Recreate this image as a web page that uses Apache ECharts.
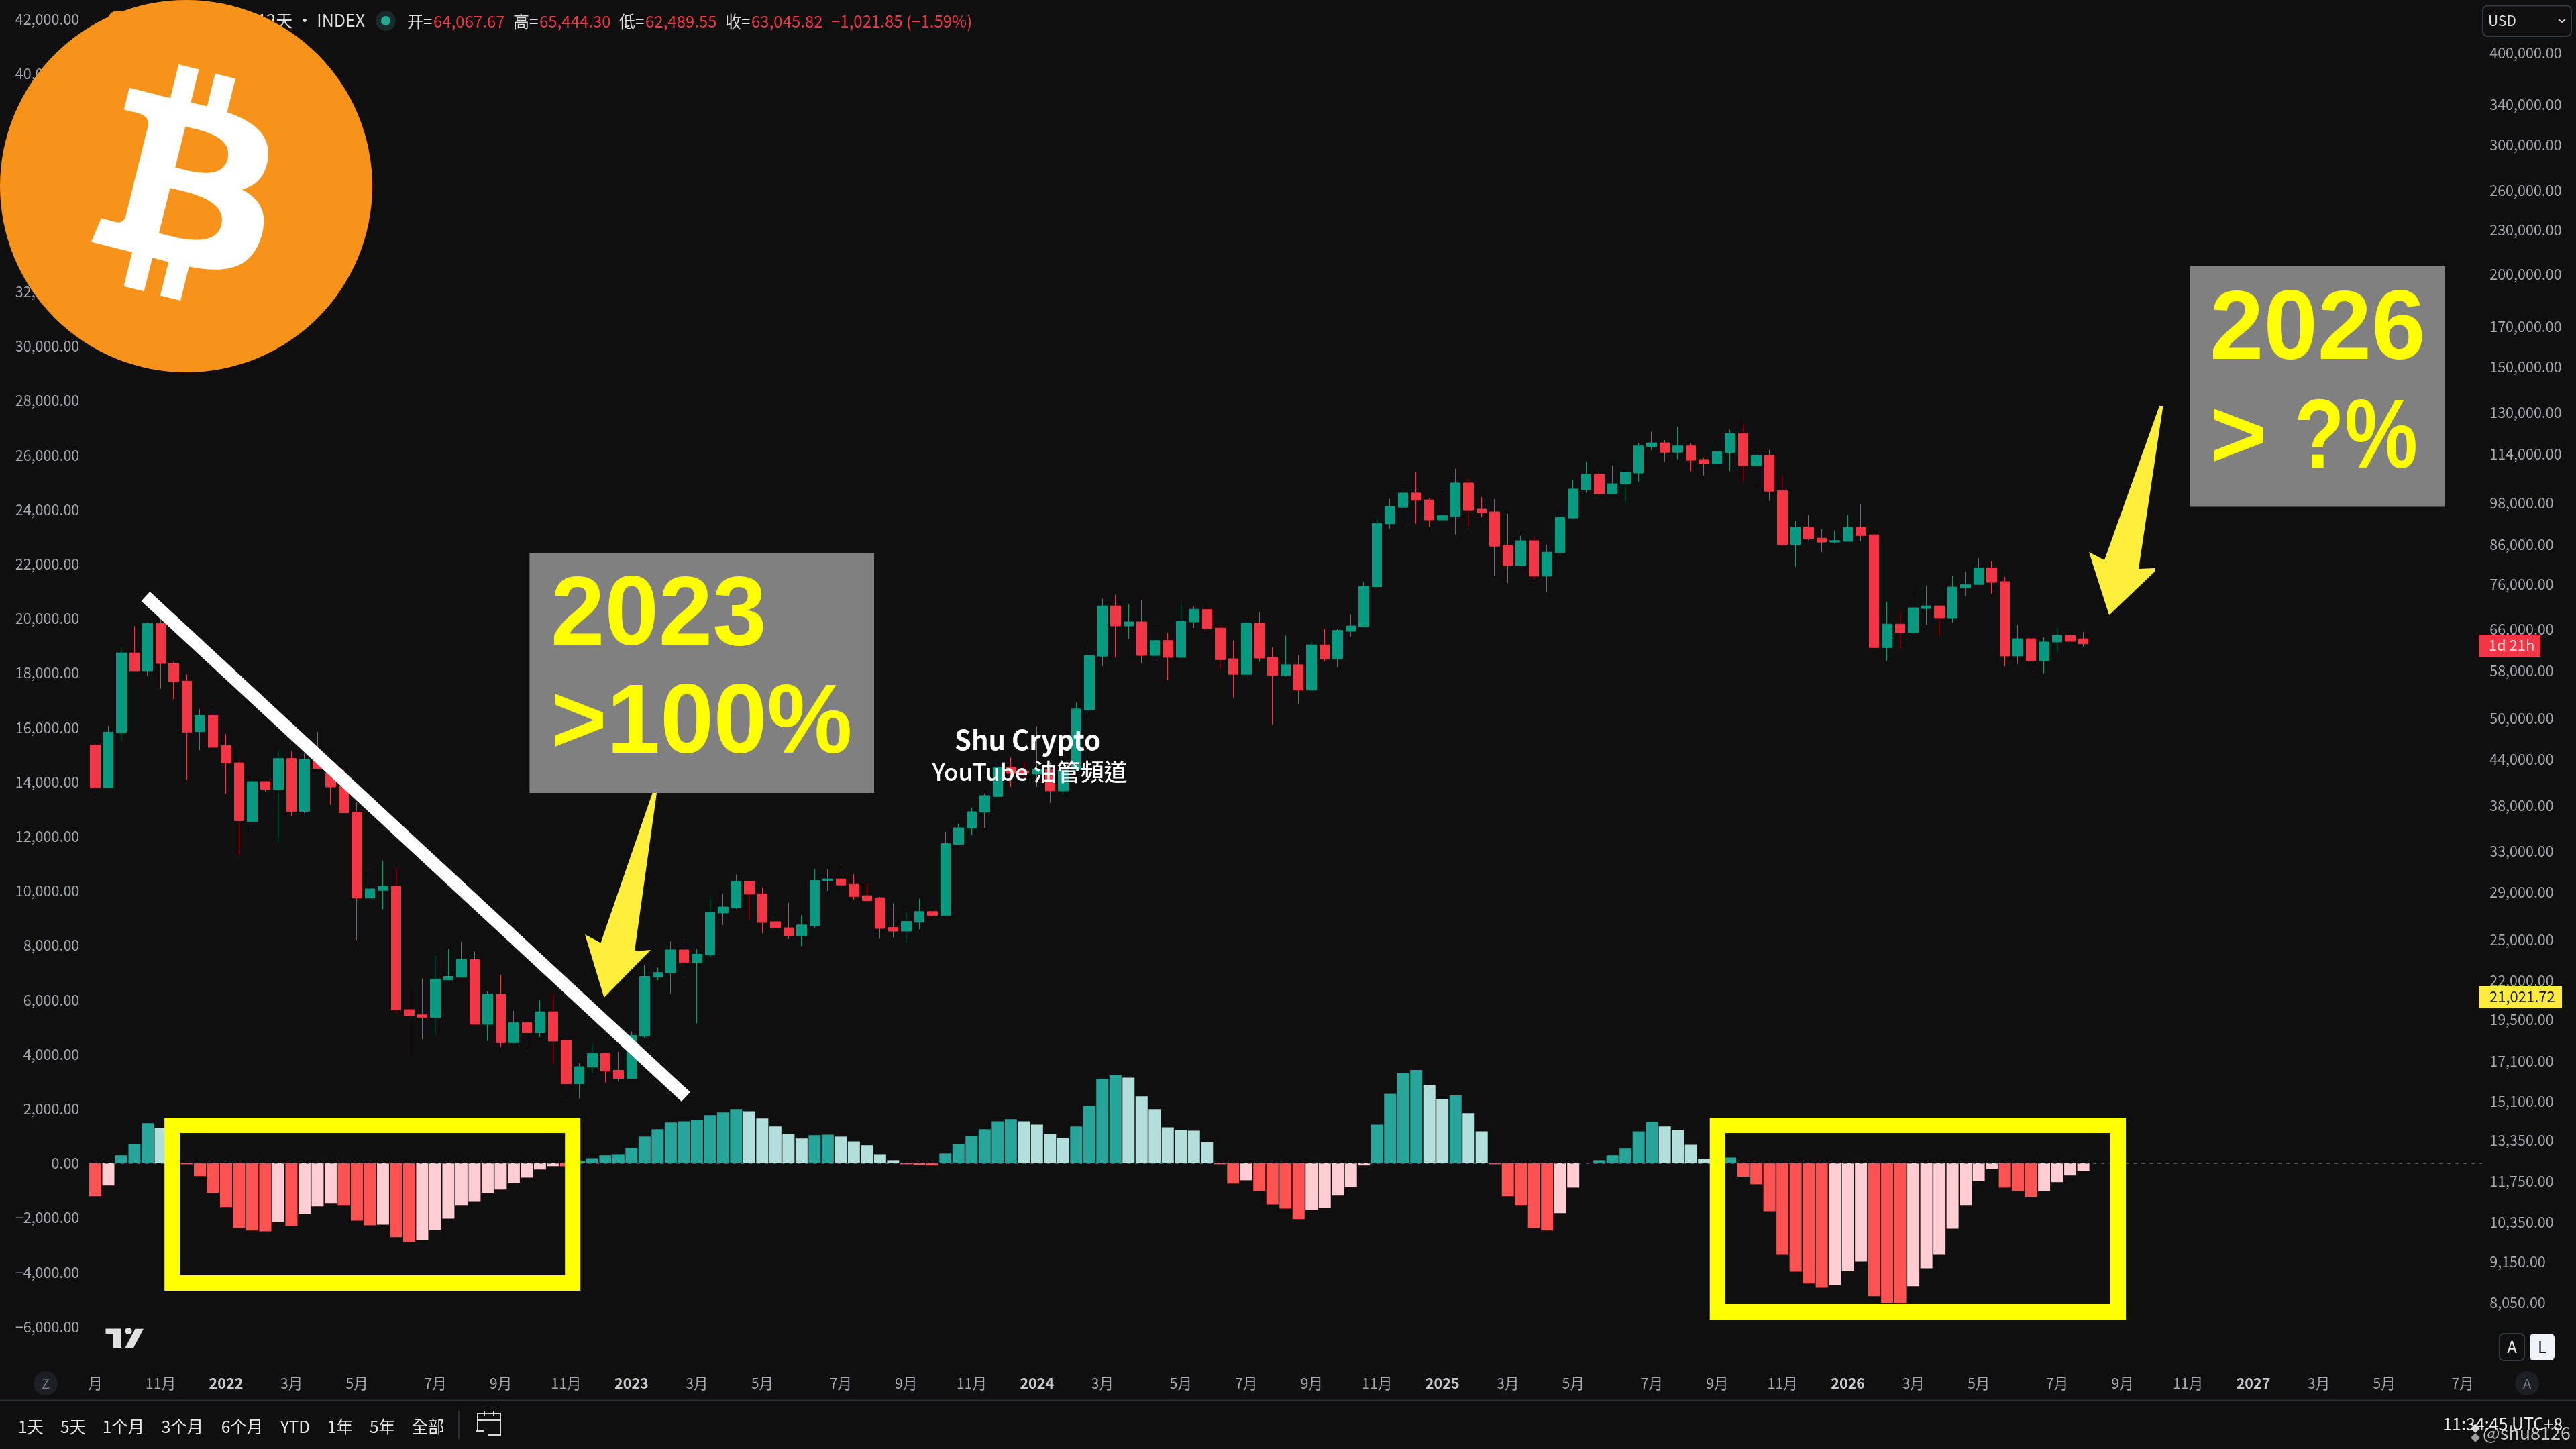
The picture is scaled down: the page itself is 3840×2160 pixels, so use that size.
<!DOCTYPE html>
<html><head><meta charset="utf-8">
<style>html,body{margin:0;padding:0;background:#0f0f0f}#c{width:3840px;height:2160px}</style>
<script src="https://cdn.jsdelivr.net/npm/echarts@6/dist/echarts.min.js"></script>
</head><body><div id="c"></div>
<script>
const openSeries=[45960,40230,47750,61300,57960,67210,59310,56130,47920,50420,
45860,43470,36190,41000,40030,44060,37360,43950,42140,40370,
37270,28490,29180,29570,20100,19780,19610,22060,22250,23500,
19200,21100,18130,19310,18700,19970,18260,15940,16800,17520,
16630,16210,18500,22250,22550,24230,23300,23840,27190,27640,
30020,28870,26460,25960,25320,26130,30070,30240,29740,28700,
28520,25980,25690,26420,27310,26970,33690,35440,37270,39140,
42860,42410,41970,42590,39830,42590,51300,60670,71000,66690,
67540,60810,63720,60450,67530,70170,66250,60180,57330,67270,
60450,57130,59070,54570,62860,60150,65600,66530,75400,91770,
96630,101030,98880,92890,93900,104260,96060,95260,85780,80560,
87040,77920,83850,93450,102180,107160,100800,104000,107560,116760,
118170,114760,117040,112200,110720,114700,121660,110060,113610,101800,
85950,90850,87740,86660,86870,90770,88660,62330,67090,65300,
70420,71000,68400,75130,75920,79980,76600,60700,64090,59810,
63430,64780,64067.67];
const closeSeries=[40230,47860,61300,57960,67210,59310,56030,47860,50420,45640,
43420,36280,41000,40030,44060,37360,43950,42700,40320,37180,
28490,29320,29570,20080,19730,19610,22120,22300,23500,19200,
21100,18130,19310,18700,19970,18220,15940,16820,17520,16590,
16210,18550,22300,22570,24230,23300,23900,27220,27700,30020,
28840,26400,25930,25320,26190,30090,30240,29680,28640,28260,
25910,25690,26480,27310,26970,33770,35480,37310,39240,42860,
42060,42060,42590,39830,42500,51440,60810,71000,66690,67540,
60810,63720,60450,67680,70250,66100,60030,57330,67270,60300,
57130,59070,54570,62860,60150,65760,66690,75480,91880,96860,
101030,98760,92890,94120,104260,95820,95030,85570,80560,87040,
77920,83950,93680,102300,107160,100800,104000,107800,117040,118170,
114760,117040,111930,110720,114950,121660,110080,113610,101600,85950,
90850,87560,86660,87070,90770,88470,62330,67090,65300,70570,
71000,68400,75300,75920,79980,76440,60700,64090,59810,63430,
64780,63560,63045.82];
const highSeries=[46100,48840,62550,66620,67460,68460,59590,57280,51410,51710,
47570,44000,41620,41000,45420,45040,44770,47860,43160,42550,
38450,31020,32020,31340,21570,22140,23900,24300,24850,24110,
21300,22410,20020,19310,20710,21150,18290,17010,18090,17520,
17620,18770,23110,22930,24880,24880,24280,28570,28880,30690,
30020,29470,27100,28060,27000,31180,31200,31490,30690,29850,
28590,28020,27340,28450,28180,35060,35950,37810,39480,44470,
44220,43580,48740,43500,43200,52500,63720,72580,73460,71360,
72310,67190,65210,71630,70830,71630,66860,63720,68090,69670,
62360,64740,60960,63800,66100,66100,69090,76600,93450,99240,
103350,107800,99360,102300,108980,106020,99720,99120,94680,88310,
88200,85960,95700,105130,111530,110320,110100,108150,118170,122450,
119160,124320,118020,112870,117450,123100,125700,115750,115500,106900,
92690,94220,90200,89820,94220,97480,89980,71920,69700,73760,
75620,71000,78050,78950,82380,81600,77730,66940,65180,64360,
66540,65500,65444.30];
const lowSeries=[39260,40230,46590,57960,57000,54820,53060,41270,45200,45640,
39460,32620,35130,39750,33980,36820,37180,42700,38130,37180,
25000,28490,27490,19800,17330,18330,18590,22060,22250,19200,
18240,17880,18090,17880,18440,16950,15290,15220,16420,16000,
16060,16210,18410,22040,21130,22410,19260,23670,26190,27530,
26650,25530,25760,25060,24500,25970,29100,29180,28320,28230,
25110,25200,24810,25850,26420,26970,33690,34670,35480,39140,
40330,41430,40330,38360,39290,43170,50170,58800,60450,64120,
59350,59210,56290,60300,66250,64740,58230,53330,56290,59640,
49030,56920,52310,54310,59710,58580,64500,66530,75400,90310,
90880,91770,90970,92890,88730,90970,93680,77920,76250,80560,
76890,74080,83450,93240,101030,100080,100800,97940,104630,115500,
111530,112200,108150,106650,110720,108150,104630,103140,98580,85600,
80210,87210,83990,86300,86870,86870,61940,59810,62150,64900,
66940,64630,67400,73300,75920,73760,58800,59180,57770,57530,
61440,61940,62489.55];
const macdHist=[-1214,-818,290,704,1469,1293,640,-35,-475,-1091,
-1610,-2375,-2472,-2498,-2155,-2296,-1856,-1583,-1487,-1557,
-2103,-2278,-2252,-2718,-2894,-2815,-2446,-2032,-1557,-1416,
-1091,-968,-721,-528,-229,-106,-110,100,185,290,
334,554,976,1249,1495,1539,1592,1768,1865,1988,
1909,1645,1346,1073,906,1029,1047,976,801,660,
334,114,-35,-62,-79,361,704,1003,1249,1539,
1619,1539,1416,1073,924,1346,2111,3097,3246,3141,
2454,1988,1320,1223,1196,783,-35,-748,-625,-1020,
-1513,-1663,-2050,-1707,-1636,-1188,-871,-79,1416,2551,
3300,3424,2857,2365,2488,1839,1170,-35,-1214,-1557,
-2375,-2472,-1830,-897,18,114,290,537,1170,1522,
1346,1223,677,167,60,211,-493,-774,-1759,-3360,
-3976,-4416,-4566,-4469,-3950,-3607,-4882,-5129,-5150,-4513,
-3853,-3360,-2402,-1557,-651,-202,-897,-1020,-1240,-1020,
-695,-449,-282];
const timeSlots=183;
const timeTickIndex=[0,5,10,15,20,26,31,36,41,46,51,57,62,67,72,77,83,88,93,98,103,108,113,119,124,129,134,139,144,150,155,160,165,170,175,181];
const timeTickLabel=['月','11月','2022','3月','5月','7月','9月','11月','2023','3月','5月','7月','9月','11月','2024','3月','5月','7月','9月','11月','2025','3月','5月','7月','9月','11月','2026','3月','5月','7月','9月','11月','2027','3月','5月','7月'];
const priceTicks=[400000,340000,300000,260000,230000,200000,170000,150000,130000,114000,98000,86000,76000,66000,58000,50000,44000,38000,33000,29000,25000,22000,19500,17100,15100,13350,11750,10350,9150,8050];
const macdTicks=[42000,40000,38000,36000,34000,32000,30000,28000,26000,24000,22000,20000,18000,16000,14000,12000,10000,8000,6000,4000,2000,0,-2000,-4000,-6000];
const rangeButtons=['1天','5天','1个月','3个月','6个月','YTD','1年','5年','全部'];

const FONT='"Noto Sans CJK TC","Noto Sans",sans-serif';
const BG='#0f0f0f', UP='#089981', DOWN='#f23645', AXISC='#a6a9b0';
const fmt=v=>(v<0?'\u2212':'')+Math.abs(v).toLocaleString('en-US',{minimumFractionDigits:2,maximumFractionDigits:2});

const categories=new Array(timeSlots).fill('');
timeTickIndex.forEach((i,k)=>{categories[i]=timeTickLabel[k];});
const candles=openSeries.map((o,i)=>[o,closeSeries[i],lowSeries[i],highSeries[i]]);

function T(text,x,y,size,fill,opt){opt=opt||{};const e={type:'text',z:opt.z||200,silent:true,style:{text,x,y,fill,font:(opt.weight||'normal')+' '+size+'px '+(opt.family||FONT),textAlign:opt.align||'left',textVerticalAlign:'middle',opacity:opt.opacity==null?1:opt.opacity}};if(opt.sx){e.scaleX=opt.sx;e.originX=x;e.originY=y;}return e;}
function R(x,y,w,h,fill,opt){opt=opt||{};return {type:'rect',z:opt.z||150,silent:true,shape:{x,y,width:w,height:h,r:opt.r||0},style:{fill:fill,stroke:opt.stroke||null,lineWidth:opt.lw||0}};}
function P(points,fill,z){return {type:'polygon',z:z||150,silent:true,shape:{points},style:{fill}};}
function L(x1,y1,x2,y2,stroke,lw,z){return {type:'line',z:z||150,silent:true,shape:{x1,y1,x2,y2},style:{stroke,lineWidth:lw}};}
function C(cx,cy,r,fill,z){return {type:'circle',z:z||150,silent:true,shape:{cx,cy,r},style:{fill}};}

const B_PATH='M46.11 27.441c.636-4.258-2.606-6.547-7.039-8.074l1.438-5.768-3.512-.875-1.4 5.616c-.922-.23-1.87-.447-2.812-.662l1.41-5.653-3.509-.875-1.439 5.766c-.764-.174-1.514-.346-2.242-.527l.004-.018-4.842-1.209-.934 3.75s2.605.597 2.55.634c1.422.355 1.68 1.296 1.636 2.042l-1.638 6.571c.098.025.225.061.365.117l-.37-.092-2.297 9.205c-.174.432-.615 1.08-1.609.834.035.051-2.552-.637-2.552-.637l-1.743 4.02 4.57 1.139c.85.213 1.683.436 2.502.646l-1.453 5.835 3.507.875 1.44-5.772c.957.26 1.887.5 2.797.726L27.504 50.8l3.511.875 1.453-5.823c5.987 1.133 10.49.676 12.383-4.738 1.527-4.36-.075-6.875-3.225-8.516 2.294-.531 4.022-2.04 4.483-5.157zM38.087 38.69c-1.086 4.36-8.426 2.004-10.807 1.412l1.928-7.729c2.38.594 10.011 1.77 8.88 6.317zm1.085-11.312c-.99 3.966-7.1 1.951-9.083 1.457l1.748-7.01c1.983.494 8.367 1.416 7.335 5.553z';

const YEL='#ffff00', ARROW='#ffee3a', BIG='bold';
const BIGF='"Liberation Sans",sans-serif';
const rangeX=[46,109,184,272,361,440,507,570,638];
const elements=[
  L(0,2087.5,3840,2087.5,'#2a2e39',2,120),
  L(684,2103,684,2145,'#2a2e39',2,120),
  ...rangeButtons.map((t,i)=>T(t,rangeX[i],2127,24.5,'#e8e8e8',{align:'center'})),
  {type:'polyline',z:120,silent:true,shape:{points:[[712,2134],[712,2107],[746,2107],[746,2139],[728,2139]]},style:{stroke:'#d8d8d8',lineWidth:2,fill:null}},
  L(712,2117,746,2117,'#d8d8d8',2,120),L(722,2103,722,2111,'#d8d8d8',2,120),L(736,2103,736,2111,'#d8d8d8',2,120),
  L(709,2133,722,2133,'#d8d8d8',2,120),
  T('11:34:45 UTC+8',3820,2122,25,'#e8e8e8',{align:'right'}),
  P([[3690,2122],[3697,2129],[3690,2136],[3683,2129]],'#cfcfcf',125),
  P([[3690,2136],[3697,2143],[3690,2150],[3683,2143]],'#9d9d9d',125),
  T('@shu8126',3832,2136,27,'#c4c4c4',{align:'right',z:125}),
  C(68,2062,18,'#1c1f26',120),T('Z',68,2062,20,'#7a7d85',{align:'center'}),
  C(3767,2062,18,'#1c1f26',120),T('A',3767,2062,20,'#7a7d85',{align:'center'}),
  R(3726,1988,37,40,BG,{stroke:'#363a45',lw:2,r:6,z:120}),T('A',3744.5,2008,24,'#e8e8e8',{align:'center'}),
  R(3771,1988,37,40,'#f0f3fa',{r:6,z:120}),T('L',3789.5,2008,24,'#131722',{align:'center'}),
  R(3701,8.5,132,45.5,BG,{stroke:'#363a45',lw:2,r:7,z:120}),T('USD',3709,31,21,'#dddddd'),
  {type:'polyline',z:120,silent:true,shape:{points:[[3814,29],[3819,33],[3824,29]]},style:{stroke:'#d8d8d8',lineWidth:2,fill:null}},
  R(3695,946,92,33,DOWN,{z:130}),T('1d 21h',3744,962,22,'#ffd9dc',{align:'center',z:131}),
  R(3695,1470,124,33,'#ffeb3b',{z:130}),T('21,021.72',3711,1486,22,'#131722',{z:131}),
  C(175,30,14,'#f7931a',90),
  T('12天 · INDEX',544,30,25,'#dcdcdc',{align:'right',z:90}),
  C(575,31,15,'#1a2a2c',90),C(575,31,7,'#22ab94',91),
  T('开=',607,32,24,'#dcdcdc'),T('64,067.67',646,32,24,DOWN),
  T('高=',765,32,24,'#dcdcdc'),T('65,444.30',804,32,24,DOWN),
  T('低=',923,32,24,'#dcdcdc'),T('62,489.55',962,32,24,DOWN),
  T('收=',1081,32,24,'#dcdcdc'),T('63,045.82',1120,32,24,DOWN),
  T('\u22121,021.85 (\u22121.59%)',1239,32,24,DOWN),
  P([[157.5,1980.4],[180.8,1980.4],[180.8,2009],[168.3,2009],[168.3,1988.6],[157.5,1988.6]],'#e0e0e0',120),
  C(191.5,1984,5,'#e0e0e0',120),
  P([[214,1980.8],[199,2009],[186.6,2009],[201.5,1980.8]],'#e0e0e0',120),
  L(217,889,1022.4,1635,'#ffffff',19,160),
  P([[980,1175],[946,1418],[970,1416],[900.5,1487],[872,1393],[895.5,1405.6],[975,1175]],ARROW,165),
  P([[3219,605],[3224.5,605],[3188,848],[3212,847],[3212,852],[3144,917],[3114,823],[3137,835]],ARROW,165),
  R(789.4,824,513.6,358,'#808080',{z:170}),
  T('2023',821,921,146,YEL,{weight:BIG,family:BIGF,z:171,sx:0.99}),
  T('>100%',821,1082,146,YEL,{weight:BIG,family:BIGF,z:171,sx:0.98}),
  R(3264,397,381,358.5,'#808080',{z:170}),
  T('2026',3294,495,146,YEL,{weight:BIG,family:BIGF,z:171,sx:0.99}),
  T('>',3294,657,146,YEL,{weight:BIG,family:BIGF,z:171}),
  T('?%',3420,657,146,YEL,{weight:BIG,family:BIGF,z:171,sx:0.84}),
  {type:'rect',z:175,silent:true,shape:{x:256.7,y:1677.5,width:597,height:235},style:{fill:null,stroke:'#ffff00',lineWidth:23}},
  {type:'rect',z:175,silent:true,shape:{x:2560.2,y:1677.5,width:597.3,height:278},style:{fill:null,stroke:'#ffff00',lineWidth:23}},
  T('Shu Crypto',1532,1103,40,'#ffffff',{align:'center',weight:'bold',z:180}),
  T('YouTube 油管頻道',1535,1151,35,'#ffffff',{align:'center',weight:'500',z:180}),
  C(277.5,277.5,277.5,'#f7931a',300)
];

const chart=echarts.init(document.getElementById('c'),null,{renderer:'canvas',width:3840,height:2160});
chart.setOption({
  animation:false,backgroundColor:BG,
  textStyle:{fontFamily:FONT},
  grid:{left:132.25,width:3568,top:0,height:2040,containLabel:false},
  xAxis:{type:'category',data:categories,boundaryGap:true,
    axisLine:{show:false},axisTick:{show:false},splitLine:{show:false},
    axisLabel:{interval:0,margin:11,fontSize:21.5,color:AXISC,fontFamily:FONT,
      formatter:v=>/^\d{4}$/.test(v)?'{y|'+v+'}':v,
      rich:{y:{fontSize:21.5,fontWeight:'bold',color:'#c8cad0',fontFamily:FONT}}}},
  yAxis:[
    {type:'value',position:'left',min:-7537,max:42709,
      axisLine:{show:false},axisTick:{show:false},splitLine:{show:false},
      axisLabel:{customValues:macdTicks,margin:14,fontSize:21.5,color:AXISC,fontFamily:FONT,padding:[0,0,5,0],formatter:fmt}},
    {type:'log',logBase:10,position:'right',min:6548,max:471650,
      axisLine:{show:false},axisTick:{show:false},splitLine:{show:false},minorTick:{show:false},minorSplitLine:{show:false},
      axisLabel:{customValues:priceTicks,margin:11,fontSize:21.5,color:AXISC,fontFamily:FONT,formatter:v=>fmt(v)}}
  ],
  series:[
    {type:'bar',name:'Histogram',yAxisIndex:0,data:macdHist,barWidth:18,z:2,
      itemStyle:{color:p=>{const v=p.value,pv=p.dataIndex?macdHist[p.dataIndex-1]:0;
        return v>=0?(v>pv?'#26a69a':'#b2dfdb'):(v<pv?'#ff5252':'#ffcdd2');}},
      markLine:{silent:true,symbol:'none',label:{show:false},data:[{yAxis:0}],
        lineStyle:{color:'#6a6d75',type:[5,7],width:1.5}}},
    {type:'candlestick',name:'BTC',yAxisIndex:1,data:candles,barWidth:15,z:3,
      itemStyle:{color:UP,color0:DOWN,borderColor:UP,borderColor0:DOWN,borderWidth:1}},
    {type:'custom',name:'logo',coordinateSystem:'none',data:[[0]],z:400,silent:true,
      renderItem:()=>({type:'path',shape:{pathData:B_PATH,layout:'cover',x:136,y:96,width:264,height:352},style:{fill:'#ffffff'}})}
  ],
  graphic:{elements}
});
</script></body></html>
